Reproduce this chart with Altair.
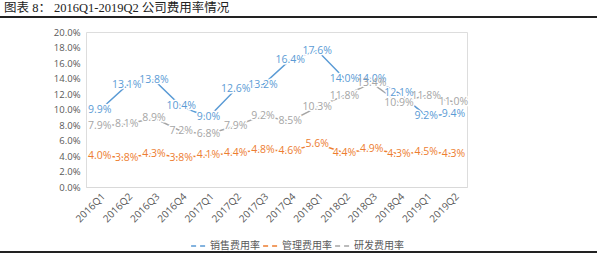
import altair as alt
import pandas as pd

quarters = ["2016Q1","2016Q2","2016Q3","2016Q4","2017Q1","2017Q2","2017Q3","2017Q4",
            "2018Q1","2018Q2","2018Q3","2018Q4","2019Q1","2019Q2"]
series_names = ["销售费用率", "管理费用率", "研发费用率"]
sales = [9.9, 13.1, 13.8, 10.4, 9.0, 12.6, 13.2, 16.4, 17.6, 14.0, 14.0, 12.1, 9.2, 9.4]
admin = [4.0, 3.8, 4.3, 3.8, 4.1, 4.4, 4.8, 4.6, 5.6, 4.4, 4.9, 4.3, 4.5, 4.3]
rnd = [7.9, 8.1, 8.9, 7.2, 6.8, 7.9, 9.2, 8.5, 10.3, 11.8, 13.4, 10.9, 11.8, 11.0]
y_ticks = [0, 2, 4, 6, 8, 10, 12, 14, 16, 18, 20]
colors = ["#5B9BD5", "#ED7D31", "#A5A5A5"]
title_text = "图表 8：  2016Q1-2019Q2 公司费用率情况"

rows = []
for name, vals in zip(series_names, [sales, admin, rnd]):
    for q, v in zip(quarters, vals):
        rows.append({"quarter": q, "series": name, "value": v})
df = pd.DataFrame(rows)

W, H = 381, 155
LEFT, TOP = 86, 32

x = alt.X("quarter:N", sort=quarters, title=None,
          scale=alt.Scale(type="point", padding=0.5),
          axis=alt.Axis(labelAngle=-45, labelFontSize=10, labelColor="#595959",
                        labelFont="Open Sans", ticks=False, domainColor="#D9D9D9",
                        labelPadding=4, labelAlign="right", labelBaseline="top"))
y = alt.Y("value:Q", title=None,
          scale=alt.Scale(domain=[0, 20], nice=False),
          axis=alt.Axis(values=y_ticks, labelExpr="format(datum.value, '.1f') + '%'",
                        grid=False, domain=False, ticks=False, labelFontSize=9.5,
                        labelColor="#595959", labelFont="Open Sans", labelPadding=6))
color = alt.Color("series:N", sort=series_names,
                  scale=alt.Scale(domain=series_names, range=colors),
                  legend=alt.Legend(title=None, orient="none", direction="horizontal",
                                    legendX=104, legendY=205, symbolType="stroke",
                                    symbolStrokeWidth=1.5, symbolDash=[5, 4],
                                    symbolSize=250, labelFontSize=10, labelColor="#595959",
                                    labelFont="Noto Sans CJK SC", columnPadding=0,
                                    symbolOffset=0, labelOffset=2))

base = alt.Chart(df)
lines = base.mark_line(strokeWidth=1.5).encode(x=x, y=y, color=color)
halo = base.mark_text(fontSize=10.5, font="Open Sans", stroke="white", strokeWidth=3,
                      strokeJoin="round").encode(
    x=x, y=y, text="label:N", color=alt.value("white")
).transform_calculate(label="format(datum.value, '.1f') + '%'")
labels = base.mark_text(fontSize=10.5, font="Open Sans").encode(
    x=x, y=y, text="label:N", color=alt.Color("series:N", scale=alt.Scale(domain=series_names, range=colors), legend=None)
).transform_calculate(label="format(datum.value, '.1f') + '%'")

deco = pd.DataFrame({"t": [title_text]})
title = alt.Chart(deco).mark_text(align="left", baseline="middle", fontSize=12.5,
                                  font="Liberation Serif, Noto Sans CJK SC",
                                  color="#222222").encode(
    x=alt.value(4 - LEFT), y=alt.value(8 - TOP), text="t:N")
top_rule = alt.Chart(deco).mark_rule(color="#222222", strokeWidth=2).encode(
    x=alt.value(0 - LEFT), x2=alt.value(597 - LEFT), y=alt.value(17 - TOP))
bottom_rule = alt.Chart(deco).mark_rule(color="#222222", strokeWidth=2).encode(
    x=alt.value(0 - LEFT), x2=alt.value(597 - LEFT), y=alt.value(252 - TOP))

chart = alt.layer(lines, halo, labels, title, top_rule, bottom_rule).properties(
    width=W, height=H,
    autosize=alt.AutoSizeParams(type="none"),
    padding={"left": LEFT, "top": TOP, "right": 600 - LEFT - W, "bottom": 259 - TOP - H},
).configure_view(stroke=None).configure(background="white")

chart.save("out.html", embed_options={"renderer": "svg", "actions": False})
